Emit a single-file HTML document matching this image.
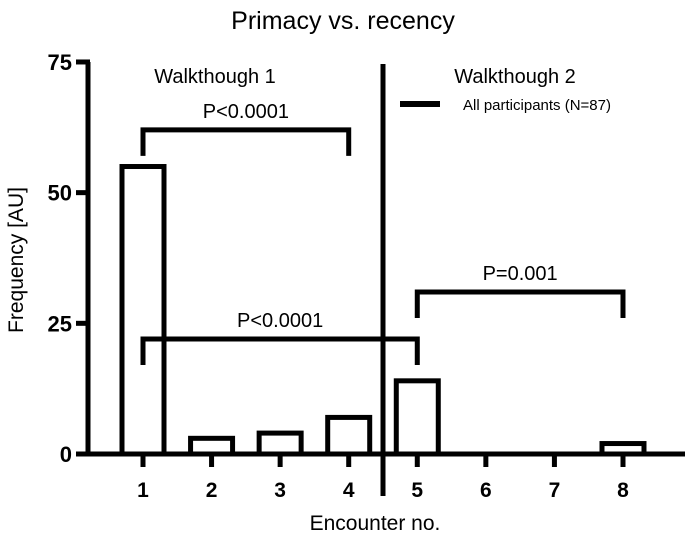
<!DOCTYPE html>
<html><head><meta charset="utf-8"><style>body{margin:0;background:#fff}svg{display:block;font-family:"Liberation Sans",Arial,sans-serif}</style></head>
<body>
<svg id="c" width="685" height="536">
<text x="343" y="29" font-size="25" text-anchor="middle">Primacy vs. recency</text>
<text transform="translate(23,260) rotate(-90)" font-size="21" text-anchor="middle">Frequency [AU]</text>
<text x="375" y="530" font-size="21" text-anchor="middle">Encounter no.</text>
<text x="215" y="83" font-size="20" text-anchor="middle">Walkthough 1</text>
<text x="515" y="83" font-size="20" text-anchor="middle">Walkthough 2</text>
<line x1="400" y1="104" x2="440" y2="104" stroke="#000" stroke-width="6"/>
<text x="463" y="110" font-size="15">All participants (N=87)</text>
<line x1="383" y1="64" x2="383" y2="496" stroke="#000" stroke-width="5"/>
<g id="g"></g>
</svg>
<script>
const categories=["1","2","3","4","5","6","7","8"];
const values=[55,3,4,7,14,0,0,2];
const yTicks=[0,25,50,75];
const brackets=[[1,4,"P<0.0001"],[1,5,"P<0.0001"],[5,8,"P=0.001"]];
const bracketLevels=[62,22,31];
const NS="http://www.w3.org/2000/svg",g=document.getElementById('g');
const xs=i=>143+(i-1)*68.57, ys=v=>454-v*5.227;
function mk(t,a){const e=document.createElementNS(NS,t);for(const k in a)e.setAttribute(k,a[k]);g.appendChild(e);return e;}
let e=mk('line',{x1:88,y1:ys(75),x2:88,y2:456,stroke:'#000','stroke-width':5});


e=mk('line',{x1:76,y1:454,x2:685,y2:454,stroke:'#000','stroke-width':5});


yTicks.forEach(v=>{
 e=mk('line',{x1:76,y1:ys(v),x2:90,y2:ys(v),stroke:'#000','stroke-width':5});
 
 
 e=mk('text',{x:72,y:ys(v)+8,'font-size':22,'font-weight':'bold','text-anchor':'end'});e.textContent=v;
 
 
});
categories.forEach((c,i)=>{
 const x=xs(i+1);
 e=mk('line',{x1:x,y1:454,x2:x,y2:467,stroke:'#000','stroke-width':5});
 
 
 e=mk('text',{x:x,y:497,'font-size':21,'font-weight':'bold','text-anchor':'middle'});e.textContent=c;
 
 
 if(values[i]>0){
  e=mk('rect',{x:x-21,y:ys(values[i]),width:42,height:454-ys(values[i]),fill:'none',stroke:'#000','stroke-width':5});
  
  
 }
});
brackets.forEach((b,k)=>{
 const y=ys(bracketLevels[k]),x1=xs(b[0]),x2=xs(b[1]);
 e=mk('path',{d:`M${x1},${y+26}V${y}H${x2}V${y+26}`,fill:'none',stroke:'#000','stroke-width':5});
 
 
 e=mk('text',{x:(x1+x2)/2,y:y-12,'font-size':20,'text-anchor':'middle'});e.textContent=b[2];
 
 
});
</script>
</body></html>
